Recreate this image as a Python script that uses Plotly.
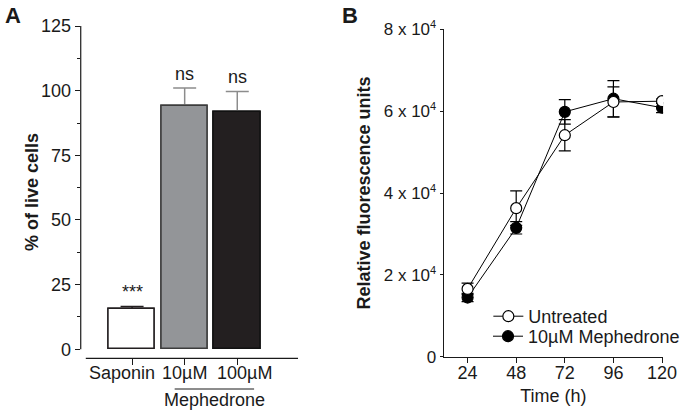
import plotly.graph_objects as go

# --- panel A: viability (% of live cells) ---
treatments = ["Saponin", "10µM", "100µM"]
live_pct = [15.5, 94.0, 91.7]
live_err = [1.1, 7.0, 8.0]
sig_labels = ["***", "ns", "ns"]

# --- panel B: growth curve ---
time_h = [24, 48, 72, 96, 120]
untreated = [16600, 36300, 54100, 62200, 62400]
untreated_err = [1400, 4200, 3800, 3700, 500]
meph = [14500, 31500, 59800, 63000, 60800]
meph_err = [1000, 1500, 3000, 4400, 1200]
b_ticks = [0, 20000, 40000, 60000, 80000]
b_ticktext = ["0"] + [f"{v // 10000} x 10<sup><span style='font-size:11px'>4</span></sup>"
                      for v in b_ticks[1:]]

FONT = "Arial, Liberation Sans, sans-serif"
INK = "#1a1a1a"
bar_fill = ["#ffffff", "#939598", "#231f20"]
bar_edge = ["#231f20", "#3c3c3c", "#111111"]
err_col = ["#231f20", "#8c8c8c", "#8c8c8c"]

fig = go.Figure()
xs = list(range(len(treatments)))

# bars carrying the (upward only) error bars ...
for i in xs:
    fig.add_trace(go.Bar(
        x=[xs[i]], y=[live_pct[i]], width=0.88,
        marker=dict(color=bar_fill[i], line=dict(color=bar_edge[i], width=1.5)),
        error_y=dict(type="data", symmetric=False, array=[live_err[i]],
                     arrayminus=[0], color=err_col[i], thickness=1.5, width=11.5),
        xaxis="x", yaxis="y", showlegend=False, hoverinfo="skip",
    ))
# ... then the same bars again on top, hiding the error-bar foot
for i in xs:
    fig.add_trace(go.Bar(
        x=[xs[i]], y=[live_pct[i]], width=0.88,
        marker=dict(color=bar_fill[i], line=dict(color=bar_edge[i], width=1.5)),
        xaxis="x", yaxis="y", showlegend=False,
    ))

fig.add_trace(go.Scatter(
    x=time_h, y=meph, mode="lines+markers", name="10µM Mephedrone",
    line=dict(color="black", width=1),
    marker=dict(symbol="circle", size=11, color="black", line=dict(color="black", width=1.2)),
    error_y=dict(type="data", array=meph_err, color="black", thickness=1.2, width=6),
    xaxis="x2", yaxis="y2", legend="legend2",
))
fig.add_trace(go.Scatter(
    x=time_h, y=untreated, mode="lines+markers", name="Untreated",
    line=dict(color="black", width=1),
    marker=dict(symbol="circle", size=11, color="white", line=dict(color="black", width=1.2)),
    error_y=dict(type="data", array=untreated_err, color="black", thickness=1.2, width=6),
    xaxis="x2", yaxis="y2", legend="legend",
))

tickfont = dict(family=FONT, size=18, color=INK)
legfont = dict(family=FONT, size=18, color=INK)

fig.update_layout(
    width=685, height=411,
    margin=dict(l=0, r=0, t=0, b=0),
    paper_bgcolor="white", plot_bgcolor="white",
    font=dict(family=FONT, color=INK),
    barmode="overlay", bargap=0,
    xaxis=dict(domain=[0.1182, 0.4365], range=[-0.976, 3.157],
               tickvals=xs, showticklabels=False,
               ticks="outside", ticklen=6, tickcolor=INK, tickwidth=1.2,
               showline=False, showgrid=False, zeroline=False, automargin=False),
    yaxis=dict(domain=[0.1282, 0.9367], range=[-3.48, 125],
               tickvals=[0, 25, 50, 75, 100, 125], tickfont=tickfont,
               ticks="outside", ticklen=5, tickcolor=INK, tickwidth=1.2,
               minor=dict(dtick=12.5, ticks="outside", ticklen=3, tickcolor=INK, tickwidth=1.2),
               showline=False, showgrid=False, zeroline=False, automargin=False),
    xaxis2=dict(domain=[0.6496, 0.9708], range=[12.2, 120.5],
                tickvals=time_h, tickfont=tickfont, anchor="y2", ticklabelstandoff=-6,
                ticks="outside", ticklen=5, tickcolor=INK, tickwidth=1.2,
                showline=True, linecolor=INK, linewidth=1.2,
                showgrid=False, zeroline=False, automargin=False,
                title=dict(text="Time (h)", font=dict(family=FONT, size=18, color=INK), standoff=7)),
    yaxis2=dict(domain=[0.1314, 0.9294], range=[0, 80000], anchor="x2",
                tickvals=b_ticks, ticktext=b_ticktext,
                tickfont=dict(family=FONT, size=17, color=INK),
                ticks="outside", ticklen=3, tickcolor=INK, tickwidth=1.2,
                showline=True, linecolor=INK, linewidth=1.2,
                showgrid=False, zeroline=False, automargin=False,
                title=dict(text="<b>Relative fluorescence units</b>",
                           font=dict(family=FONT, size=18, color=INK), standoff=8)),
    legend=dict(x=0.715, y=1 - 298 / 411, xanchor="left", yanchor="top",
                font=legfont, bgcolor="rgba(0,0,0,0)", itemwidth=30),
    legend2=dict(x=0.715, y=1 - 318 / 411, xanchor="left", yanchor="top",
                 font=legfont, bgcolor="rgba(0,0,0,0)", itemwidth=30),
)

# y title of panel A, placed by hand so it sits close to the tick labels
fig.add_annotation(x=32 / 685, y=0.5, xref="paper", yref="y domain", text="<b>% of live cells</b>",
                   textangle=-90, showarrow=False, xanchor="center", yanchor="middle",
                   font=dict(family=FONT, size=18, color=INK))

# detached axis lines of panel A (GraphPad style)
fig.add_shape(type="line", xref="x domain", yref="y", x0=0, x1=0, y0=0, y1=125,
              line=dict(color=INK, width=1.2))
fig.add_shape(type="line", xref="x", yref="y domain", x0=xs[0] - 0.88, x1=3.157, y0=0, y1=0,
              line=dict(color=INK, width=1.2))

# category labels of panel A, spread a little like the original
label_y = 1 - 373 / 411
fig.add_annotation(x=xs[0] + 0.47, y=label_y, xref="x", yref="paper", text=treatments[0],
                   showarrow=False, xanchor="right", yanchor="middle", font=tickfont)
fig.add_annotation(x=xs[1], y=label_y, xref="x", yref="paper", text=treatments[1],
                   showarrow=False, xanchor="center", yanchor="middle", font=tickfont)
fig.add_annotation(x=xs[2] - 0.42, y=label_y, xref="x", yref="paper", text=treatments[2],
                   showarrow=False, xanchor="left", yanchor="middle", font=tickfont)

# group bracket under the mephedrone doses
fig.add_shape(type="line", xref="x", yref="paper", x0=xs[1] - 0.19, x1=xs[2] + 0.32,
              y0=1 - 389 / 411, y1=1 - 389 / 411, line=dict(color=INK, width=1))
fig.add_annotation(x=(xs[1] + xs[2]) / 2 + 0.06, y=1 - 400 / 411, xref="x", yref="paper",
                   text="Mephedrone", showarrow=False, yanchor="middle", font=tickfont)

# significance labels above error bars
for i in xs:
    top = live_pct[i] + live_err[i]
    fig.add_annotation(x=xs[i], y=top, xref="x", yref="y", text=sig_labels[i],
                       showarrow=False, yanchor="bottom", yshift=2,
                       font=dict(family=FONT, size=18, color=INK))

# panel letters
fig.add_annotation(x=3 / 685, y=1 - 1 / 411, xref="paper", yref="paper", text="<b>A</b>",
                   showarrow=False, xanchor="left", yanchor="top",
                   font=dict(family=FONT, size=22, color=INK))
fig.add_annotation(x=341 / 685, y=1 - 1 / 411, xref="paper", yref="paper", text="<b>B</b>",
                   showarrow=False, xanchor="left", yanchor="top",
                   font=dict(family=FONT, size=22, color=INK))

fig.write_html("out.html", config={"displayModeBar": False},
               post_script="document.body.style.margin='0';")
